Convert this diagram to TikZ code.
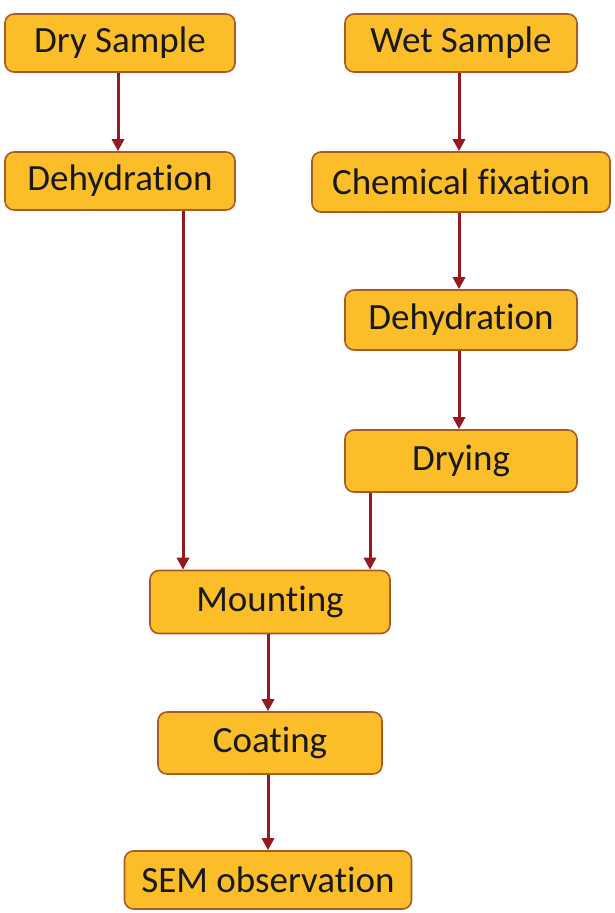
\documentclass[tikz,border=0pt]{standalone}
\usepackage{fontspec}
\setmainfont{Carlito}[RawFeature={-liga;-clig;-dlig;-calt;-rlig}]
\usetikzlibrary{arrows.meta}
\definecolor{boxfill}{RGB}{251,190,40}
\definecolor{boxline}{RGB}{170,90,35}
\definecolor{arrcol}{RGB}{150,25,30}
\tikzset{
  stepbox/.style={draw=boxline, fill=boxfill, line width=1.6pt, rounded corners=9pt,
    inner sep=0pt, font=\fontsize{37}{42}\selectfont, text=black!90},
  arr/.style={draw=arrcol, line width=3pt, -{Triangle[length=12pt,width=12pt]}}
}
\begin{document}
\begin{tikzpicture}[x=1pt,y=-1pt]
\useasboundingbox (0,0) rectangle (614,913);
\node[stepbox, minimum width=230pt, minimum height=58pt] (dry) at (120,43) {Dry Sample};
\node[stepbox, minimum width=232pt, minimum height=58pt] (wet) at (461,43) {Wet Sample};
\node[stepbox, minimum width=230pt, minimum height=58pt] (dehL) at (120,181) {Dehydration};
\node[stepbox, minimum width=298pt, minimum height=60pt] (chem) at (461,182) {Chemical fixation};
\node[stepbox, minimum width=232pt, minimum height=60pt] (dehR) at (461,320) {Dehydration};
\node[stepbox, minimum width=232pt, minimum height=62pt] (drying) at (461,461) {Drying};
\node[stepbox, minimum width=240pt, minimum height=63pt] (mount) at (270,602) {Mounting};
\node[stepbox, minimum width=224pt, minimum height=62pt] (coat) at (270,743) {Coating};
\node[stepbox, minimum width=287pt, minimum height=58pt] (sem) at (268,880) {SEM observation};
\draw[arr] ([xshift=-2pt]dry.south) -- ([xshift=-2pt]dry.south |- dehL.north);
\draw[arr] ([xshift=-2pt]wet.south) -- ([xshift=-2pt]wet.south |- chem.north);
\draw[arr] ([xshift=-2pt]chem.south) -- ([xshift=-2pt]chem.south |- dehR.north);
\draw[arr] ([xshift=-2pt]dehR.south) -- ([xshift=-2pt]dehR.south |- drying.north);
\draw[arr] ([xshift=63pt]dehL.south) -- ([xshift=63pt]dehL.south |- mount.north);
\draw[arr] ([xshift=-91pt]drying.south) -- ([xshift=-91pt]drying.south |- mount.north);
\draw[arr] ([xshift=-2pt]mount.south) -- ([xshift=-2pt]mount.south |- coat.north);
\draw[arr] ([xshift=-2pt]coat.south) -- ([xshift=-2pt]coat.south |- sem.north);
\end{tikzpicture}
\end{document}
